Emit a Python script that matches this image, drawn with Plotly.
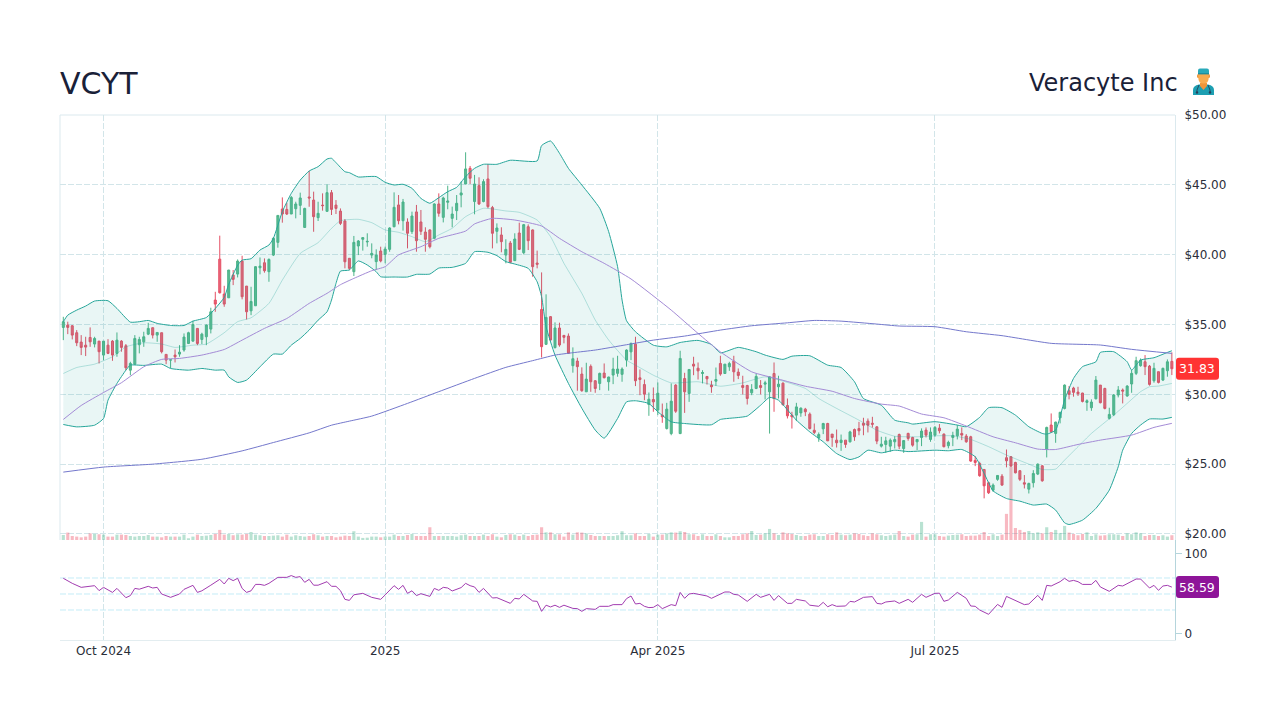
import base64
import pandas as pd
import plotly.graph_objects as go

HOLIDAYS = ["2024-11-28", "2024-12-25", "2025-01-01", "2025-01-09", "2025-01-20", "2025-02-17",
            "2025-04-18", "2025-05-26", "2025-06-19", "2025-07-04", "2025-09-01"]
DATES = [d.strftime("%Y-%m-%d") for d in pd.bdate_range("2024-09-18", "2025-09-16")
         if d.strftime("%Y-%m-%d") not in HOLIDAYS]

OPEN = [34.79,34.96,34.91,34.41,33.74,33.52,34.07,33.60,33.81,32.81,
33.52,33.81,32.93,33.81,33.48,31.73,32.16,33.55,33.76,34.31,
34.77,34.24,34.41,32.86,32.45,32.81,32.88,33.17,33.64,33.81,
34.72,33.93,34.12,34.67,36.75,39.68,37.18,36.91,38.54,38.61,
39.54,37.75,35.98,36.34,39.06,39.42,38.78,39.97,40.88,43.27,
43.24,42.91,43.29,43.53,41.95,44.13,43.91,42.65,43.55,43.10,
44.44,43.55,43.12,42.41,39.74,38.78,40.62,41.10,40.91,39.97,
39.50,40.26,40.02,40.38,42.00,43.56,42.43,42.34,41.65,43.06,
42.34,41.62,41.77,41.17,43.63,42.67,43.75,42.60,43.15,44.27,
45.06,46.18,43.80,44.94,43.80,45.42,43.37,41.67,41.41,39.97,
40.83,39.57,41.55,40.14,42.00,41.77,39.40,36.08,33.58,35.56,
33.34,34.75,34.22,34.17,32.05,32.38,31.45,30.18,32.00,30.97,
30.78,31.52,30.90,31.38,31.50,31.43,32.45,33.04,33.59,31.18,
30.70,29.27,29.63,28.87,28.51,27.55,27.19,30.66,27.19,31.13,
30.06,32.16,31.87,31.49,31.28,30.66,30.94,32.21,31.49,31.97,
32.38,31.59,30.63,30.63,30.11,30.42,30.63,30.73,30.18,31.49,
30.54,30.80,29.20,28.51,28.51,28.67,28.94,28.58,27.43,26.88,
27.53,27.91,27.15,26.72,26.55,26.72,26.60,27.48,27.55,27.93,
28.08,27.93,27.67,26.29,26.41,26.29,26.60,27.12,26.12,27.20,
26.91,26.60,26.91,27.44,26.77,27.08,27.58,27.15,26.32,26.91,
27.03,27.20,27.01,26.96,25.27,25.05,24.62,23.67,23.14,23.91,
24.14,25.46,25.53,25.12,24.53,23.67,23.21,23.67,24.29,24.88,
26.05,27.80,27.20,28.32,28.99,30.26,30.45,30.16,30.09,29.42,
29.04,29.68,30.66,30.42,28.28,28.54,29.95,30.31,29.88,30.74,
31.50,32.05,32.33,32.02,30.97,31.62,31.02,31.69,32.36]

HIGH = [35.55,35.20,34.96,34.60,34.24,34.12,34.79,34.12,33.81,33.81,
33.95,33.88,34.43,33.88,33.60,32.33,34.24,34.12,34.48,35.12,
34.77,34.43,34.41,32.86,32.50,33.21,33.52,34.36,34.48,35.27,
34.72,34.41,35.00,36.20,37.34,41.36,37.77,38.90,38.90,39.66,
39.92,37.75,37.70,39.18,39.80,39.73,39.73,41.24,42.81,44.10,
43.72,44.20,43.79,44.44,43.36,46.00,44.51,43.79,44.39,45.03,
44.63,43.91,43.31,42.55,39.74,41.34,41.05,41.22,41.53,40.81,
40.38,40.57,40.57,41.96,44.46,44.27,43.99,42.60,43.08,43.56,
43.20,41.96,41.81,43.68,44.39,44.15,44.94,43.44,44.27,45.23,
47.33,46.35,45.71,45.54,45.40,46.49,43.49,42.24,41.96,41.10,
40.98,41.53,42.29,42.20,42.17,41.81,40.29,38.73,37.16,35.60,
35.15,35.13,34.24,34.36,33.36,32.62,31.93,32.26,32.14,31.02,
31.55,32.21,31.26,32.62,32.76,31.93,33.22,33.71,34.12,31.78,
31.06,30.13,30.49,30.85,29.34,29.39,30.78,30.73,33.12,31.54,
31.78,32.69,32.28,31.73,31.30,30.97,31.92,32.76,32.16,32.33,
32.76,31.85,31.33,30.68,30.73,31.49,31.02,30.97,31.30,32.28,
31.33,30.85,29.70,28.75,29.39,29.06,29.03,28.70,27.91,27.27,
27.96,27.96,27.15,27.48,27.12,26.72,27.39,27.55,28.03,28.32,
28.27,28.39,27.72,26.96,26.96,26.84,27.00,27.19,26.72,27.25,
26.96,26.77,27.56,27.63,27.63,27.73,27.87,27.20,26.68,27.32,
27.80,27.63,27.15,27.03,25.58,25.17,24.62,23.74,23.62,24.22,
24.29,26.05,25.58,25.17,24.57,24.22,23.67,24.57,25.05,24.93,
27.68,28.63,28.04,28.75,30.71,30.59,30.54,30.54,30.11,29.64,
29.64,31.31,30.66,30.47,29.04,30.02,30.59,30.42,30.66,31.74,
32.69,32.57,32.81,32.10,32.26,31.62,31.91,32.50,33.00]

LOW = [33.88,34.31,33.93,33.45,32.81,32.74,33.40,33.36,32.21,32.45,
32.88,32.40,32.69,33.05,31.73,31.37,32.09,32.93,33.40,34.24,
34.00,33.76,32.93,32.16,31.88,32.28,32.69,33.05,33.60,33.76,
33.52,33.60,33.52,34.36,35.91,37.22,36.27,36.91,37.82,38.37,
36.80,35.36,35.67,36.34,38.59,38.71,38.06,39.90,40.50,42.29,
42.84,42.91,42.60,42.84,41.93,43.43,41.64,42.41,43.15,43.10,
42.84,42.91,42.12,39.02,38.90,38.47,39.97,40.29,40.57,39.74,
38.90,39.45,39.38,40.21,41.96,42.17,41.72,40.45,41.48,40.21,
41.41,40.21,40.45,41.10,42.72,42.31,43.25,41.96,42.48,43.39,
45.06,45.06,42.89,43.56,43.75,43.32,40.45,40.81,40.17,39.38,
39.38,39.55,40.33,40.02,40.33,38.42,39.02,32.64,33.53,33.84,
33.29,33.41,33.65,32.93,31.55,30.26,30.18,30.18,30.18,30.11,
30.30,31.14,30.26,30.73,31.26,30.90,31.98,32.45,30.59,29.94,
29.58,28.46,28.75,28.51,27.96,27.48,27.07,28.67,27.15,28.67,
29.46,31.37,31.06,30.78,30.70,30.11,30.61,31.33,31.49,31.68,
30.90,31.09,29.99,29.27,29.94,30.37,29.99,29.63,27.19,28.75,
29.70,29.22,28.27,27.55,28.08,28.39,28.44,27.48,27.15,26.60,
27.15,26.65,26.24,26.19,25.95,26.17,26.55,26.67,27.07,27.07,
27.27,27.62,26.43,26.19,25.81,25.88,26.12,26.07,25.81,26.68,
26.25,26.01,26.29,26.91,26.60,26.96,27.20,26.20,26.13,26.29,
26.77,26.72,26.53,25.17,24.86,24.10,22.55,22.86,23.02,23.81,
23.45,24.77,24.81,24.34,23.79,23.26,22.90,23.33,24.22,23.74,
25.48,27.25,26.53,27.92,28.92,29.64,29.83,29.88,29.42,28.82,
28.82,29.64,29.35,28.92,28.20,28.44,29.78,29.35,29.83,30.11,
31.38,31.98,31.38,30.62,30.83,30.78,30.95,31.26,31.38]

CLOSE = [35.20,34.79,34.24,33.69,33.36,33.38,33.76,34.00,33.05,33.81,
32.93,32.81,33.88,33.36,31.90,32.21,34.00,33.93,34.12,34.72,
34.24,34.43,33.05,32.45,32.47,32.69,33.02,34.10,34.41,35.00,
33.64,34.31,34.96,35.91,36.46,37.27,36.46,38.90,38.23,39.54,
36.99,35.91,36.65,39.14,39.18,38.85,39.66,41.17,42.81,42.91,
42.91,44.10,43.63,44.06,43.31,44.06,42.72,42.96,43.51,44.44,
43.24,43.31,42.24,39.49,39.02,40.88,40.98,41.22,40.95,40.09,
39.97,39.55,40.40,41.91,43.39,42.43,43.77,41.53,42.77,41.00,
41.67,41.10,40.57,43.63,42.96,44.06,43.84,42.91,43.68,44.42,
46.14,45.47,45.06,43.63,45.23,43.44,41.53,41.91,40.93,40.38,
39.45,41.12,40.38,42.15,41.00,39.14,39.31,33.41,35.51,33.89,
34.75,33.53,34.08,32.93,32.55,31.98,30.26,31.09,30.90,30.42,
31.50,31.19,31.24,31.81,31.81,31.81,33.17,33.64,30.97,31.06,
30.01,29.65,29.46,30.08,28.39,28.94,29.51,28.79,32.57,30.18,
31.78,32.02,31.68,31.56,31.11,30.54,31.06,31.45,32.16,32.21,
31.61,31.35,30.49,29.70,30.35,31.28,30.49,30.82,31.25,29.70,
30.73,29.25,28.46,28.39,29.10,29.01,28.75,27.55,27.27,27.12,
27.91,26.67,26.91,26.53,26.72,26.41,27.31,26.96,27.39,27.79,
27.79,27.86,26.65,26.43,26.67,26.72,26.76,26.29,26.69,26.84,
26.36,26.77,27.37,27.08,27.30,27.63,27.39,26.25,26.56,27.06,
27.51,27.08,26.60,25.22,25.12,24.17,23.45,22.95,23.50,24.19,
23.50,25.24,24.86,24.38,23.91,23.57,23.62,24.33,25.00,23.81,
27.63,27.32,28.01,28.71,30.66,30.00,30.14,30.04,29.49,29.54,
29.45,31.02,29.40,28.99,28.56,29.95,30.31,30.23,30.59,31.50,
32.41,32.45,31.98,30.71,31.86,30.85,31.86,32.33,31.83]

VOLUME_M = [.41,.61,.33,.28,.22,.28,.55,.50,.47,.44,
.28,.28,.44,.44,.41,.33,.28,.33,.33,.41,
.28,.28,.22,.33,.28,.28,.28,.44,.14,.28,
.44,.33,.36,.41,.50,.83,.44,.50,.39,.47,
.44,.50,.66,.44,.39,.33,.33,.36,.39,.28,
.44,.28,.39,.33,.28,.33,.47,.39,.28,.33,
.33,.22,.28,.36,.33,
.72,.28,.17,.19,.28,.28,.22,.28,.28,.44,
.33,.33,.41,.50,.33,.33,.33,1.05,.33,.33,
.33,.33,.33,.28,.39,.44,.33,.33,.33,.44,
.33,.47,.28,.22,.41,.47,.44,.33,.44,.33,
.41,.44,1.05,.63,.63,.47,.47,.28,.63,.44,
.63,.61,.55,.41,.33,.33,.33,.33,.33,.39,
.72,.39,.39,.55,.33,.33,.50,
.28,.44,.44,.55,.63,.61,.72,.66,.47,.47,
.33,.47,.33,.33,.47,.33,.22,.22,.33,.33,
.47,.55,.74,.41,.44,.55,.91,.55,.41,.63,
.55,.50,.41,.33,.33,.44,.47,.33,.33,.47,
.41,.63,.44,.39,.44,.55,.50,.39,.33,.55,
.47,.39,.33,.39,.44,.74,.33,.28,.44,.47,
1.49,.28,.47,.47,.33,
.28,.36,.41,.44,.47,.33,.36,.36,.44,.66,
.33,.47,.33,.44,2.15,6.02,.99,.83,.66,.74,
.55,.63,.55,1.05,.66,.83,.58,1.16,.61,.50,
.39,.50,.63,.33,.47,.36,.39,.47,.47,.44,
.33,.55,.47,.63,.55,.33,.41,.41,.33,.39,
.28,.39]

UPPER_BARS = [0,1,3,5,7,10,12,15,17,19,21,24,27,29,32,34,36,37,39,40,42,44,46,47,49,51,53,55,57,59,60,61,63,64,66,68,70,72,74,76,78,80,82,84,86,88,90,92,94,97,100,106,107,109,111,113,116,120,122,124,125,126,128,132,135,138,142,145,147,151,155,157,161,163,167,171,174,177,179,183,186,189,190,195,200,202,205,207,210,213,216,219,220,222,224,226,228,231,232,235,238,239,241,244,247,248]
UPPER_VALUES = [35.2,35.67,36.03,36.32,36.68,36.70,36.15,35.17,35.2,35.29,35.08,34.93,34.93,35.24,35.5,36.15,36.94,37.87,39.25,39.61,39.71,40.33,40.69,41.17,43.08,44.39,45.34,45.99,46.30,46.85,46.90,46.59,45.94,45.87,45.56,45.59,45.59,45.18,44.99,45.04,44.75,44.03,43.68,44.08,44.51,44.82,45.59,46.18,46.47,46.47,46.76,46.71,47.81,48.14,47.26,46.18,44.99,43.32,41.65,39.14,36.75,35.27,34.48,33.52,33.40,33.71,33.86,33.57,32.97,33.36,33.05,32.81,32.5,32.73,32.76,32.09,31.92,30.9,29.7,29.22,28.15,27.96,27.87,28.04,27.80,27.68,28.35,29.04,29.04,28.51,27.68,27.20,27.15,27.44,29.59,31.14,31.98,32.33,33.0,33.05,32.33,31.74,32.45,32.62,33.0,33.12]

LOWER_BARS = [0,3,7,9,10,12,14,15,18,22,24,28,31,34,36,37,39,41,44,47,49,51,53,55,57,59,60,61,62,64,66,68,70,71,74,77,79,82,84,87,90,92,95,97,99,101,104,106,107,108,110,113,116,119,121,124,126,128,131,133,136,139,145,147,151,153,156,158,160,164,167,170,173,176,178,180,183,186,189,195,198,201,204,206,208,211,214,217,220,222,224,225,228,231,234,236,237,239,241,243,246,248]
LOWER_VALUES = [27.84,27.67,27.79,28.27,29.58,30.78,31.73,32.09,32.07,32.16,31.85,31.73,31.85,31.73,31.73,31.25,30.85,31.02,31.97,32.88,32.88,33.52,34.0,34.6,35.31,35.91,36.75,37.94,38.82,38.90,39.55,39.26,38.78,38.42,38.40,38.40,38.59,38.61,39.04,39.09,39.38,40.21,40.17,39.93,39.50,39.33,39.02,38.06,36.99,34.84,32.81,30.78,29.0,27.44,26.86,28.27,29.46,29.54,29.34,28.75,28.03,27.91,27.82,28.2,28.34,28.44,29.22,29.78,29.58,28.15,27.31,26.6,25.76,25.33,25.52,26.0,25.81,26.0,25.9,26.0,25.96,26.05,25.53,24.34,23.09,22.54,22.35,22.07,22.14,21.71,20.80,20.68,20.99,21.83,23.14,24.81,26.0,27.2,27.8,28.23,28.23,28.35]

MID_BARS = [0,3,7,11,14,18,22,25,29,32,36,39,42,46,49,53,57,60,62,66,69,72,75,78,81,84,87,90,94,99,102,106,109,112,116,119,122,126,128,132,136,142,147,152,157,162,166,169,173,178,182,186,191,195,199,203,207,211,216,219,222,224,227,230,235,238,241,243,245,248]
MID_VALUES = [31.49,31.92,32.16,32.69,33.4,33.69,33.6,33.36,33.52,33.6,34.41,35.2,35.48,36.51,38.18,40.09,40.86,41.88,42.43,42.53,42.29,41.77,41.6,41.29,40.93,41.41,41.89,42.72,43.32,43.13,43.03,42.48,41.29,39.38,37.23,35.32,33.89,32.45,32.09,31.37,30.82,30.9,30.58,30.82,31.25,30.85,30.42,29.7,28.99,28.15,27.43,27.0,26.96,27.03,27.03,26.77,26.25,25.65,25.0,24.62,24.65,25.29,26.25,27.2,28.51,29.35,30.19,30.54,30.59,30.78]

SMA50_BARS = [0,4,9,13,18,22,26,31,36,40,45,50,55,59,62,65,69,72,75,80,84,90,92,96,101,107,111,116,121,127,136,142,147,154,160,166,172,177,183,187,192,197,202,208,213,218,222,227,232,239,244,248]
SMA50_VALUES = [28.20,29.2,30.13,30.83,31.97,32.5,32.57,32.81,33.21,33.88,34.72,35.43,36.51,37.23,37.85,38.3,38.85,39.14,39.98,40.57,41.17,41.69,42.2,42.6,42.48,42.05,41.17,40.21,39.38,38.26,36.03,34.36,33.04,31.61,31.09,30.58,30.22,29.7,29.3,29.16,28.59,28.32,27.73,26.96,26.53,26.08,26.05,26.41,26.72,27.08,27.63,27.92]

SMA200_BARS = [0,9,20,31,40,47,55,60,64,69,77,84,92,99,105,110,114,119,126,132,139,147,154,162,168,174,182,187,195,202,210,221,232,239,248]
SMA200_VALUES = [24.43,24.79,25.0,25.35,25.95,26.55,27.24,27.79,28.08,28.44,29.35,30.19,31.14,31.93,32.41,32.81,32.98,33.17,33.55,33.88,34.17,34.6,34.91,35.12,35.29,35.24,35.03,34.89,34.84,34.48,34.2,33.65,33.53,33.22,32.93]

RSI_BARS = [0,2,4,7,8,9,11,12,14,15,16,17,19,20,21,22,24,26,27,29,30,31,33,35,36,37,38,39,40,41,42,43,44,45,46,48,50,51,52,53,54,55,56,57,59,60,61,62,63,64,65,67,69,71,72,74,75,76,77,78,79,80,82,83,84,85,86,87,89,90,91,92,93,94,96,97,100,101,102,103,105,106,107,108,109,110,111,112,114,115,116,117,119,120,122,123,125,126,127,128,129,130,131,132,133,134,136,137,138,139,140,141,144,145,148,149,150,151,153,155,156,158,159,160,162,163,164,166,167,169,170,171,172,173,175,176,177,178,179,181,182,183,184,186,187,189,190,192,193,195,196,197,198,200,202,203,204,205,207,209,210,211,215,216,218,219,220,221,223,224,225,226,227,228,230,231,232,234,236,237,240,241,243,244,245,246,247,248]
RSI_VALUES = [69.6,63.3,58.3,60.4,54.2,58.3,52,57,45.4,48,57,56,59.6,57.5,58.3,50,45.8,50,55.8,60.8,52,54,61,68.3,62.5,69.6,66.7,69.6,57,52,54,62,62,60.8,63.3,70.8,70.8,73,70.8,71.7,64.6,68.3,61,61,65.4,59.6,59.6,54.2,43.3,42,49,50.8,45.8,43.3,48.8,60.4,55.8,60.8,50.8,54,48,50.4,47,57,54.6,58.3,57.5,53.8,58,63.3,60.4,58.8,52,57,45,45.4,38.3,44.6,43.8,49.6,41.3,40.8,28.3,36,33.8,36,33.3,36,32,31.7,28.3,31.7,30.8,34.6,34.6,36.7,36.7,44.2,47.5,37.5,38.3,34.6,33,33.3,36.7,31.7,36.7,35.4,52,44.6,50,50.8,47.5,44.6,52.5,52.5,49.6,48.8,40.8,49.6,45.8,49.6,42,48,38.3,38.3,43.3,41.3,36,34.6,39.6,34,36.7,34.6,35,40.8,40,43.3,45.8,46.7,38.3,37.5,40,41.3,38.3,43.3,39.6,49.6,45.8,50.8,51,40.8,42.5,52,44.6,35,34.6,30,24.6,37,33.3,47,36.7,37.5,48.3,42,60.8,60,65.4,69.6,65.8,67,65.4,62,62,67,58.8,53.3,60.8,60,68.7,68.7,57.5,60.8,54.6,60,60.8,58.59]

PRICE_TICKS = [20, 25, 30, 35, 40, 45, 50]
PRICE_TICK_LABELS = ["$20.00", "$25.00", "$30.00", "$35.00", "$40.00", "$45.00", "$50.00"]
RSI_TICKS = [0, 50, 100]
RSI_LEVELS = [30, 50, 70]
DATE_TICKS = ["2024-10-01", "2024-12-31", "2025-04-01", "2025-07-01"]
DATE_TICK_LABELS = ["Oct 2024", "2025", "Apr 2025", "Jul 2025"]
LAST_CLOSE = 31.83
LAST_RSI = 58.59
TICKER = "VCYT"
COMPANY = "Veracyte Inc"

assert len(DATES) == len(OPEN) == len(HIGH) == len(LOW) == len(CLOSE) == len(VOLUME_M)
assert len(UPPER_BARS) == len(UPPER_VALUES) and len(LOWER_BARS) == len(LOWER_VALUES)
assert len(MID_BARS) == len(MID_VALUES) and len(SMA50_BARS) == len(SMA50_VALUES)
assert len(SMA200_BARS) == len(SMA200_VALUES) and len(RSI_BARS) == len(RSI_VALUES)


def on_dates(bars):
    return [DATES[i] for i in bars]


FONT = "DejaVu Sans"
TEXT = "#1a2138"
GRID = "#d2e5e9"
FRAME = "#dbe9ee"
BAND = "#26a69a"
VOL_COLORS = ["rgba(38,166,115,0.32)" if c >= o else "rgba(235,60,85,0.36)" for o, c in zip(OPEN, CLOSE)]

DOCTOR_ICON = """<svg xmlns='http://www.w3.org/2000/svg' viewBox='0 0 23 27'>
<path d='M1 27 V22 Q1 17.5 7 16.5 L16 16.5 Q22 17.5 22 22 V27 Z' fill='#1d9fb2'/>
<path d='M8 15 H15 V18 L11.5 22 L8 18 Z' fill='#f0953a'/>
<rect x='5' y='6' width='13' height='4' rx='1.5' fill='#f0953a'/>
<path d='M6.3 4 H16.7 V10 Q16.7 15.5 11.5 15.5 Q6.3 15.5 6.3 10 Z' fill='#f9ab4f'/>
<path d='M6 6 V2.5 Q6 0.5 8 0.5 H15 Q17 0.5 17 2.5 V6 Z' fill='#29a9ba'/>
<path d='M6 5 H17 V6.4 H6 Z' fill='#1d8ea0'/>
<path d='M7 17 L5 22 V24 M16 17 L18 22 V24' stroke='#25405a' stroke-width='0.9' fill='none'/>
<circle cx='5' cy='24.5' r='1.2' fill='#25405a'/><circle cx='18' cy='24.5' r='1.2' fill='#25405a'/>
</svg>"""
ICON_URI = "data:image/svg+xml;base64," + base64.b64encode(DOCTOR_ICON.encode()).decode()

fig = go.Figure()
fig.add_trace(go.Bar(x=DATES, y=VOLUME_M, marker=dict(color=VOL_COLORS, line_width=0),
                     xaxis="x", yaxis="y", showlegend=False))
fig.add_trace(go.Scatter(x=on_dates(UPPER_BARS), y=UPPER_VALUES, mode="lines", xaxis="x", yaxis="y2",
                         line=dict(color=BAND, width=1, shape="spline", smoothing=0.5), showlegend=False))
fig.add_trace(go.Scatter(x=on_dates(LOWER_BARS), y=LOWER_VALUES, mode="lines", xaxis="x", yaxis="y2",
                         line=dict(color=BAND, width=1, shape="spline", smoothing=0.5), fill="tonexty",
                         fillcolor="rgba(38,166,154,0.1)", showlegend=False))
fig.add_trace(go.Scatter(x=on_dates(MID_BARS), y=MID_VALUES, mode="lines", xaxis="x", yaxis="y2",
                         line=dict(color="rgba(38,166,154,0.3)", width=1, shape="spline", smoothing=0.5),
                         showlegend=False))
fig.add_trace(go.Candlestick(x=DATES, open=OPEN, high=HIGH, low=LOW, close=CLOSE, xaxis="x", yaxis="y2",
                             increasing=dict(line=dict(color="#4db488", width=1), fillcolor="#5cba92"),
                             decreasing=dict(line=dict(color="#e54f64", width=1), fillcolor="#e8667a"),
                             whiskerwidth=0, showlegend=False))
fig.add_trace(go.Scatter(x=on_dates(SMA50_BARS), y=SMA50_VALUES, mode="lines", xaxis="x", yaxis="y2",
                         line=dict(color="#a48bd6", width=1, shape="spline", smoothing=0.5), showlegend=False))
fig.add_trace(go.Scatter(x=on_dates(SMA200_BARS), y=SMA200_VALUES, mode="lines", xaxis="x", yaxis="y2",
                         line=dict(color="#7478cc", width=1, shape="spline", smoothing=0.5), showlegend=False))
fig.add_trace(go.Scatter(x=on_dates(RSI_BARS), y=RSI_VALUES, mode="lines", xaxis="x", yaxis="y3",
                         line=dict(color="#a23cb0", width=1), showlegend=False))


def value_tag(yref, value, color):
    w, h, r = 44, 22, 3
    path = (f"M 1,{-h/2+r} Q 1,{-h/2} {1+r},{-h/2} L {w-r},{-h/2} Q {w},{-h/2} {w},{-h/2+r} "
            f"L {w},{h/2-r} Q {w},{h/2} {w-r},{h/2} L {1+r},{h/2} Q 1,{h/2} 1,{h/2-r} Z")
    return dict(type="path", xref="paper", yref=yref, xsizemode="pixel", ysizemode="pixel",
                xanchor=1, yanchor=value, path=path, fillcolor=color, line=dict(width=0), layer="above")


shapes = [dict(type="line", xref="paper", x0=0, x1=1, yref="y3", y0=v, y1=v,
               line=dict(color="#c4ecf7", width=1, dash="6px,2px"), layer="below") for v in RSI_LEVELS]
shapes += [dict(type="line", xref="paper", yref="paper", x0=0, x1=1, y0=1, y1=1,
                line=dict(color=FRAME, width=1), layer="below"),
           dict(type="line", xref="paper", yref="paper", x0=0, x1=0, y0=0.1905, y1=1,
                line=dict(color=FRAME, width=1), layer="below"),
           value_tag("y2", LAST_CLOSE, "#ff3333"), value_tag("y3", LAST_RSI, "#8e1599")]

annotations = [
    dict(xref="paper", yref="paper", x=1, y=1, xshift=22, yshift=-(368.8 - 115), xanchor="center", yanchor="middle",
         text=f"{LAST_CLOSE:.2f}", showarrow=False, font=dict(family=FONT, size=12.5, color="white")),
    dict(xref="paper", yref="paper", x=1, y=0, xshift=22, yshift=640 - 587, xanchor="center", yanchor="middle",
         text=f"{LAST_RSI:.2f}", showarrow=False, font=dict(family=FONT, size=12.5, color="white")),
    dict(xref="paper", yref="paper", x=0, y=1, xshift=-2, yshift=32, xanchor="left", yanchor="middle",
         text=TICKER, showarrow=False, font=dict(family=FONT, size=30, color=TEXT)),
    dict(xref="paper", yref="paper", x=1, y=1, xshift=5, yshift=32, xanchor="right", yanchor="middle",
         text=COMPANY, showarrow=False, font=dict(family=FONT, size=24, color=TEXT)),
]

images = [dict(source=ICON_URI, xref="paper", yref="paper", x=(1192 - 60) / 1115, y=(640 - 68) / 525,
               sizex=23 / 1115, sizey=27 / 525, sizing="stretch", xanchor="left", yanchor="top", layer="above")]

fig.update_layout(
    width=1280, height=720, autosize=False,
    margin=dict(l=60, r=105, t=115, b=80, pad=0),
    paper_bgcolor="white", plot_bgcolor="white",
    font=dict(family=FONT, size=12, color="#2a2e39"),
    showlegend=False, bargap=0.3, boxgap=0.55, boxgroupgap=0, hovermode=False,
    shapes=shapes, annotations=annotations, images=images,
    xaxis=dict(type="category", categoryorder="array", categoryarray=DATES, range=[-0.74, 248.7],
               anchor="y3", domain=[0, 1], tickmode="array", tickvals=DATE_TICKS, ticktext=DATE_TICK_LABELS,
               showgrid=True, gridcolor=GRID, griddash="6px,2px", gridwidth=1, ticks="",
               showline=True, linecolor="#e3edf0", linewidth=1, rangeslider=dict(visible=False),
               tickfont=dict(family=FONT, size=12, color="#2a2e39")),
    yaxis=dict(domain=[0.1905, 1], range=[0, 35], showgrid=False, showticklabels=False, ticks="",
               zeroline=False, fixedrange=True, showline=False),
    yaxis2=dict(domain=[0.1905, 1], range=[19.57, 50], overlaying="y", side="right", anchor="x",
                tickmode="array", tickvals=PRICE_TICKS, ticktext=PRICE_TICK_LABELS, showgrid=True,
                gridcolor=GRID, griddash="6px,2px", gridwidth=1, ticks="outside", ticklen=6,
                tickcolor="rgba(0,0,0,0)", zeroline=False, showline=True, linecolor=FRAME, linewidth=1,
                tickfont=dict(family=FONT, size=12, color="#2a2e39")),
    yaxis3=dict(domain=[0, 0.1905], range=[-7.5, 117.5], side="right", anchor="x", tickmode="array",
                tickvals=RSI_TICKS, showgrid=False, zeroline=False, ticks="outside", ticklen=6,
                tickcolor="#b5d5dc", showline=True, linecolor="#b5d5dc", linewidth=1,
                tickfont=dict(family=FONT, size=12, color="#2a2e39")),
)

fig.write_html("out.html", config=dict(displayModeBar=False), post_script="document.body.style.margin='0';")
